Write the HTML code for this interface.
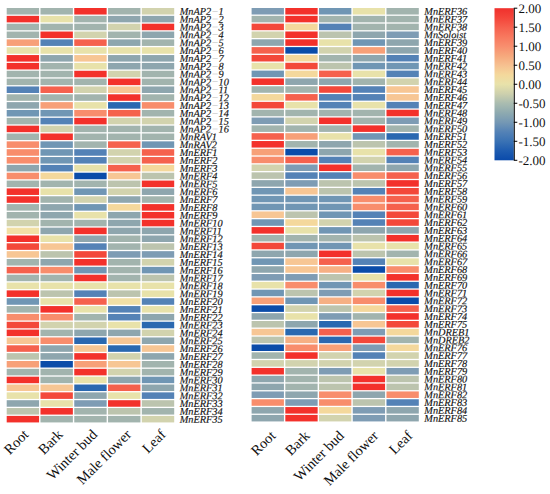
<!DOCTYPE html>
<html><head><meta charset="utf-8"><style>
html,body{margin:0;padding:0;background:#fff;width:550px;height:494px;overflow:hidden}
svg{display:block}
text{text-rendering:geometricPrecision}
.rl{font-family:"Liberation Serif",serif;font-style:italic;font-size:10.30px;fill:#111;stroke:#111;stroke-width:0.15px}
.xl{font-family:"Liberation Serif",serif;font-size:14.30px;fill:#111;text-anchor:end}
.cl{font-family:"Liberation Serif",serif;font-size:13px;fill:#111}
</style></head><body>
<svg width="550" height="494" viewBox="0 0 550 494">
<rect width="550" height="494" fill="#fff"/>
<rect x="6.70" y="8.00" width="32.38" height="6.54" fill="#a2b4ae"/>
<rect x="40.48" y="8.00" width="32.38" height="6.54" fill="#a2b4ae"/>
<rect x="74.26" y="8.00" width="32.38" height="6.54" fill="#f3312b"/>
<rect x="108.04" y="8.00" width="32.38" height="6.54" fill="#a2b4ae"/>
<rect x="141.82" y="8.00" width="32.38" height="6.54" fill="#d2d3ae"/>
<rect x="6.70" y="15.84" width="32.38" height="6.54" fill="#f3312b"/>
<rect x="40.48" y="15.84" width="32.38" height="6.54" fill="#e8e2aa"/>
<rect x="74.26" y="15.84" width="32.38" height="6.54" fill="#a2b4ae"/>
<rect x="108.04" y="15.84" width="32.38" height="6.54" fill="#8ea6ae"/>
<rect x="141.82" y="15.84" width="32.38" height="6.54" fill="#8ea6ae"/>
<rect x="6.70" y="23.69" width="32.38" height="6.54" fill="#a2b4ae"/>
<rect x="40.48" y="23.69" width="32.38" height="6.54" fill="#a2b4ae"/>
<rect x="74.26" y="23.69" width="32.38" height="6.54" fill="#a2b4ae"/>
<rect x="108.04" y="23.69" width="32.38" height="6.54" fill="#d2d3ae"/>
<rect x="141.82" y="23.69" width="32.38" height="6.54" fill="#f3312b"/>
<rect x="6.70" y="31.53" width="32.38" height="6.54" fill="#a2b4ae"/>
<rect x="40.48" y="31.53" width="32.38" height="6.54" fill="#f3312b"/>
<rect x="74.26" y="31.53" width="32.38" height="6.54" fill="#d2d3ae"/>
<rect x="108.04" y="31.53" width="32.38" height="6.54" fill="#a2b4ae"/>
<rect x="141.82" y="31.53" width="32.38" height="6.54" fill="#8ea6ae"/>
<rect x="6.70" y="39.38" width="32.38" height="6.54" fill="#f7a078"/>
<rect x="40.48" y="39.38" width="32.38" height="6.54" fill="#5482b6"/>
<rect x="74.26" y="39.38" width="32.38" height="6.54" fill="#f5614d"/>
<rect x="108.04" y="39.38" width="32.38" height="6.54" fill="#8ea6ae"/>
<rect x="141.82" y="39.38" width="32.38" height="6.54" fill="#a2b4ae"/>
<rect x="6.70" y="47.22" width="32.38" height="6.54" fill="#e8e2aa"/>
<rect x="40.48" y="47.22" width="32.38" height="6.54" fill="#e8e2aa"/>
<rect x="74.26" y="47.22" width="32.38" height="6.54" fill="#e8e2aa"/>
<rect x="108.04" y="47.22" width="32.38" height="6.54" fill="#e8e2aa"/>
<rect x="141.82" y="47.22" width="32.38" height="6.54" fill="#e8e2aa"/>
<rect x="6.70" y="55.06" width="32.38" height="6.54" fill="#f3312b"/>
<rect x="40.48" y="55.06" width="32.38" height="6.54" fill="#8ea6ae"/>
<rect x="74.26" y="55.06" width="32.38" height="6.54" fill="#f7c694"/>
<rect x="108.04" y="55.06" width="32.38" height="6.54" fill="#8ea6ae"/>
<rect x="141.82" y="55.06" width="32.38" height="6.54" fill="#8ea6ae"/>
<rect x="6.70" y="62.91" width="32.38" height="6.54" fill="#f3312b"/>
<rect x="40.48" y="62.91" width="32.38" height="6.54" fill="#a2b4ae"/>
<rect x="74.26" y="62.91" width="32.38" height="6.54" fill="#e8e2aa"/>
<rect x="108.04" y="62.91" width="32.38" height="6.54" fill="#8ea6ae"/>
<rect x="141.82" y="62.91" width="32.38" height="6.54" fill="#8ea6ae"/>
<rect x="6.70" y="70.75" width="32.38" height="6.54" fill="#a2b4ae"/>
<rect x="40.48" y="70.75" width="32.38" height="6.54" fill="#a2b4ae"/>
<rect x="74.26" y="70.75" width="32.38" height="6.54" fill="#f3312b"/>
<rect x="108.04" y="70.75" width="32.38" height="6.54" fill="#d2d3ae"/>
<rect x="141.82" y="70.75" width="32.38" height="6.54" fill="#a2b4ae"/>
<rect x="6.70" y="78.60" width="32.38" height="6.54" fill="#a2b4ae"/>
<rect x="40.48" y="78.60" width="32.38" height="6.54" fill="#a2b4ae"/>
<rect x="74.26" y="78.60" width="32.38" height="6.54" fill="#a2b4ae"/>
<rect x="108.04" y="78.60" width="32.38" height="6.54" fill="#f3312b"/>
<rect x="141.82" y="78.60" width="32.38" height="6.54" fill="#a2b4ae"/>
<rect x="6.70" y="86.44" width="32.38" height="6.54" fill="#5482b6"/>
<rect x="40.48" y="86.44" width="32.38" height="6.54" fill="#f5614d"/>
<rect x="74.26" y="86.44" width="32.38" height="6.54" fill="#d2d3ae"/>
<rect x="108.04" y="86.44" width="32.38" height="6.54" fill="#f7c694"/>
<rect x="141.82" y="86.44" width="32.38" height="6.54" fill="#8ea6ae"/>
<rect x="6.70" y="94.28" width="32.38" height="6.54" fill="#a2b4ae"/>
<rect x="40.48" y="94.28" width="32.38" height="6.54" fill="#a2b4ae"/>
<rect x="74.26" y="94.28" width="32.38" height="6.54" fill="#a2b4ae"/>
<rect x="108.04" y="94.28" width="32.38" height="6.54" fill="#f3312b"/>
<rect x="141.82" y="94.28" width="32.38" height="6.54" fill="#a2b4ae"/>
<rect x="6.70" y="102.13" width="32.38" height="6.54" fill="#8ea6ae"/>
<rect x="40.48" y="102.13" width="32.38" height="6.54" fill="#f7a078"/>
<rect x="74.26" y="102.13" width="32.38" height="6.54" fill="#e8e2aa"/>
<rect x="108.04" y="102.13" width="32.38" height="6.54" fill="#2a68b0"/>
<rect x="141.82" y="102.13" width="32.38" height="6.54" fill="#f88d6c"/>
<rect x="6.70" y="109.97" width="32.38" height="6.54" fill="#7096b4"/>
<rect x="40.48" y="109.97" width="32.38" height="6.54" fill="#7096b4"/>
<rect x="74.26" y="109.97" width="32.38" height="6.54" fill="#f88d6c"/>
<rect x="108.04" y="109.97" width="32.38" height="6.54" fill="#f5614d"/>
<rect x="141.82" y="109.97" width="32.38" height="6.54" fill="#a2b4ae"/>
<rect x="6.70" y="117.82" width="32.38" height="6.54" fill="#a2b4ae"/>
<rect x="40.48" y="117.82" width="32.38" height="6.54" fill="#5482b6"/>
<rect x="74.26" y="117.82" width="32.38" height="6.54" fill="#f3312b"/>
<rect x="108.04" y="117.82" width="32.38" height="6.54" fill="#d2d3ae"/>
<rect x="141.82" y="117.82" width="32.38" height="6.54" fill="#d2d3ae"/>
<rect x="6.70" y="125.66" width="32.38" height="6.54" fill="#f3312b"/>
<rect x="40.48" y="125.66" width="32.38" height="6.54" fill="#d2d3ae"/>
<rect x="74.26" y="125.66" width="32.38" height="6.54" fill="#a2b4ae"/>
<rect x="108.04" y="125.66" width="32.38" height="6.54" fill="#a2b4ae"/>
<rect x="141.82" y="125.66" width="32.38" height="6.54" fill="#a2b4ae"/>
<rect x="6.70" y="133.50" width="32.38" height="6.54" fill="#a2b4ae"/>
<rect x="40.48" y="133.50" width="32.38" height="6.54" fill="#f3312b"/>
<rect x="74.26" y="133.50" width="32.38" height="6.54" fill="#a2b4ae"/>
<rect x="108.04" y="133.50" width="32.38" height="6.54" fill="#a2b4ae"/>
<rect x="141.82" y="133.50" width="32.38" height="6.54" fill="#a2b4ae"/>
<rect x="6.70" y="141.35" width="32.38" height="6.54" fill="#f88d6c"/>
<rect x="40.48" y="141.35" width="32.38" height="6.54" fill="#7096b4"/>
<rect x="74.26" y="141.35" width="32.38" height="6.54" fill="#a2b4ae"/>
<rect x="108.04" y="141.35" width="32.38" height="6.54" fill="#f5614d"/>
<rect x="141.82" y="141.35" width="32.38" height="6.54" fill="#7096b4"/>
<rect x="6.70" y="149.19" width="32.38" height="6.54" fill="#f88d6c"/>
<rect x="40.48" y="149.19" width="32.38" height="6.54" fill="#7096b4"/>
<rect x="74.26" y="149.19" width="32.38" height="6.54" fill="#5482b6"/>
<rect x="108.04" y="149.19" width="32.38" height="6.54" fill="#d2d3ae"/>
<rect x="141.82" y="149.19" width="32.38" height="6.54" fill="#f5614d"/>
<rect x="6.70" y="157.04" width="32.38" height="6.54" fill="#f88d6c"/>
<rect x="40.48" y="157.04" width="32.38" height="6.54" fill="#7096b4"/>
<rect x="74.26" y="157.04" width="32.38" height="6.54" fill="#5482b6"/>
<rect x="108.04" y="157.04" width="32.38" height="6.54" fill="#d2d3ae"/>
<rect x="141.82" y="157.04" width="32.38" height="6.54" fill="#f5614d"/>
<rect x="6.70" y="164.88" width="32.38" height="6.54" fill="#8ea6ae"/>
<rect x="40.48" y="164.88" width="32.38" height="6.54" fill="#5482b6"/>
<rect x="74.26" y="164.88" width="32.38" height="6.54" fill="#e8e2aa"/>
<rect x="108.04" y="164.88" width="32.38" height="6.54" fill="#f5614d"/>
<rect x="141.82" y="164.88" width="32.38" height="6.54" fill="#f4d89c"/>
<rect x="6.70" y="172.72" width="32.38" height="6.54" fill="#f88d6c"/>
<rect x="40.48" y="172.72" width="32.38" height="6.54" fill="#f4d89c"/>
<rect x="74.26" y="172.72" width="32.38" height="6.54" fill="#0b4ca9"/>
<rect x="108.04" y="172.72" width="32.38" height="6.54" fill="#f7c694"/>
<rect x="141.82" y="172.72" width="32.38" height="6.54" fill="#bcc4ae"/>
<rect x="6.70" y="180.57" width="32.38" height="6.54" fill="#a2b4ae"/>
<rect x="40.48" y="180.57" width="32.38" height="6.54" fill="#a2b4ae"/>
<rect x="74.26" y="180.57" width="32.38" height="6.54" fill="#a2b4ae"/>
<rect x="108.04" y="180.57" width="32.38" height="6.54" fill="#bcc4ae"/>
<rect x="141.82" y="180.57" width="32.38" height="6.54" fill="#f3312b"/>
<rect x="6.70" y="188.41" width="32.38" height="6.54" fill="#f3312b"/>
<rect x="40.48" y="188.41" width="32.38" height="6.54" fill="#e8e2aa"/>
<rect x="74.26" y="188.41" width="32.38" height="6.54" fill="#7096b4"/>
<rect x="108.04" y="188.41" width="32.38" height="6.54" fill="#d2d3ae"/>
<rect x="141.82" y="188.41" width="32.38" height="6.54" fill="#8ea6ae"/>
<rect x="6.70" y="196.26" width="32.38" height="6.54" fill="#f3312b"/>
<rect x="40.48" y="196.26" width="32.38" height="6.54" fill="#a2b4ae"/>
<rect x="74.26" y="196.26" width="32.38" height="6.54" fill="#d2d3ae"/>
<rect x="108.04" y="196.26" width="32.38" height="6.54" fill="#8ea6ae"/>
<rect x="141.82" y="196.26" width="32.38" height="6.54" fill="#a2b4ae"/>
<rect x="6.70" y="204.10" width="32.38" height="6.54" fill="#a2b4ae"/>
<rect x="40.48" y="204.10" width="32.38" height="6.54" fill="#8ea6ae"/>
<rect x="74.26" y="204.10" width="32.38" height="6.54" fill="#7096b4"/>
<rect x="108.04" y="204.10" width="32.38" height="6.54" fill="#f4d89c"/>
<rect x="141.82" y="204.10" width="32.38" height="6.54" fill="#f3312b"/>
<rect x="6.70" y="211.94" width="32.38" height="6.54" fill="#a2b4ae"/>
<rect x="40.48" y="211.94" width="32.38" height="6.54" fill="#8ea6ae"/>
<rect x="74.26" y="211.94" width="32.38" height="6.54" fill="#e8e2aa"/>
<rect x="108.04" y="211.94" width="32.38" height="6.54" fill="#8ea6ae"/>
<rect x="141.82" y="211.94" width="32.38" height="6.54" fill="#f3312b"/>
<rect x="6.70" y="219.79" width="32.38" height="6.54" fill="#d2d3ae"/>
<rect x="40.48" y="219.79" width="32.38" height="6.54" fill="#a2b4ae"/>
<rect x="74.26" y="219.79" width="32.38" height="6.54" fill="#a2b4ae"/>
<rect x="108.04" y="219.79" width="32.38" height="6.54" fill="#8ea6ae"/>
<rect x="141.82" y="219.79" width="32.38" height="6.54" fill="#f3312b"/>
<rect x="6.70" y="227.63" width="32.38" height="6.54" fill="#f2e0a6"/>
<rect x="40.48" y="227.63" width="32.38" height="6.54" fill="#8ea6ae"/>
<rect x="74.26" y="227.63" width="32.38" height="6.54" fill="#f3312b"/>
<rect x="108.04" y="227.63" width="32.38" height="6.54" fill="#8ea6ae"/>
<rect x="141.82" y="227.63" width="32.38" height="6.54" fill="#8ea6ae"/>
<rect x="6.70" y="235.48" width="32.38" height="6.54" fill="#f3312b"/>
<rect x="40.48" y="235.48" width="32.38" height="6.54" fill="#e8e2aa"/>
<rect x="74.26" y="235.48" width="32.38" height="6.54" fill="#8ea6ae"/>
<rect x="108.04" y="235.48" width="32.38" height="6.54" fill="#a2b4ae"/>
<rect x="141.82" y="235.48" width="32.38" height="6.54" fill="#8ea6ae"/>
<rect x="6.70" y="243.32" width="32.38" height="6.54" fill="#f3483a"/>
<rect x="40.48" y="243.32" width="32.38" height="6.54" fill="#f7c694"/>
<rect x="74.26" y="243.32" width="32.38" height="6.54" fill="#5482b6"/>
<rect x="108.04" y="243.32" width="32.38" height="6.54" fill="#a2b4ae"/>
<rect x="141.82" y="243.32" width="32.38" height="6.54" fill="#bcc4ae"/>
<rect x="6.70" y="251.16" width="32.38" height="6.54" fill="#f7c694"/>
<rect x="40.48" y="251.16" width="32.38" height="6.54" fill="#bcc4ae"/>
<rect x="74.26" y="251.16" width="32.38" height="6.54" fill="#f3483a"/>
<rect x="108.04" y="251.16" width="32.38" height="6.54" fill="#7e9cb4"/>
<rect x="141.82" y="251.16" width="32.38" height="6.54" fill="#7e9cb4"/>
<rect x="6.70" y="259.01" width="32.38" height="6.54" fill="#a2b4ae"/>
<rect x="40.48" y="259.01" width="32.38" height="6.54" fill="#8ea6ae"/>
<rect x="74.26" y="259.01" width="32.38" height="6.54" fill="#f3312b"/>
<rect x="108.04" y="259.01" width="32.38" height="6.54" fill="#a2b4ae"/>
<rect x="141.82" y="259.01" width="32.38" height="6.54" fill="#d2d3ae"/>
<rect x="6.70" y="266.85" width="32.38" height="6.54" fill="#f5614d"/>
<rect x="40.48" y="266.85" width="32.38" height="6.54" fill="#f88d6c"/>
<rect x="74.26" y="266.85" width="32.38" height="6.54" fill="#7096b4"/>
<rect x="108.04" y="266.85" width="32.38" height="6.54" fill="#a2b4ae"/>
<rect x="141.82" y="266.85" width="32.38" height="6.54" fill="#7096b4"/>
<rect x="6.70" y="274.70" width="32.38" height="6.54" fill="#a2b4ae"/>
<rect x="40.48" y="274.70" width="32.38" height="6.54" fill="#a2b4ae"/>
<rect x="74.26" y="274.70" width="32.38" height="6.54" fill="#f3312b"/>
<rect x="108.04" y="274.70" width="32.38" height="6.54" fill="#a2b4ae"/>
<rect x="141.82" y="274.70" width="32.38" height="6.54" fill="#bcc4ae"/>
<rect x="6.70" y="282.54" width="32.38" height="6.54" fill="#e8e2aa"/>
<rect x="40.48" y="282.54" width="32.38" height="6.54" fill="#e8e2aa"/>
<rect x="74.26" y="282.54" width="32.38" height="6.54" fill="#e8e2aa"/>
<rect x="108.04" y="282.54" width="32.38" height="6.54" fill="#e8e2aa"/>
<rect x="141.82" y="282.54" width="32.38" height="6.54" fill="#e8e2aa"/>
<rect x="6.70" y="290.38" width="32.38" height="6.54" fill="#f3312b"/>
<rect x="40.48" y="290.38" width="32.38" height="6.54" fill="#bcc4ae"/>
<rect x="74.26" y="290.38" width="32.38" height="6.54" fill="#5482b6"/>
<rect x="108.04" y="290.38" width="32.38" height="6.54" fill="#bcc4ae"/>
<rect x="141.82" y="290.38" width="32.38" height="6.54" fill="#e8e2aa"/>
<rect x="6.70" y="298.23" width="32.38" height="6.54" fill="#7096b4"/>
<rect x="40.48" y="298.23" width="32.38" height="6.54" fill="#e8e2aa"/>
<rect x="74.26" y="298.23" width="32.38" height="6.54" fill="#f5614d"/>
<rect x="108.04" y="298.23" width="32.38" height="6.54" fill="#f2e0a6"/>
<rect x="141.82" y="298.23" width="32.38" height="6.54" fill="#5482b6"/>
<rect x="6.70" y="306.07" width="32.38" height="6.54" fill="#a2b4ae"/>
<rect x="40.48" y="306.07" width="32.38" height="6.54" fill="#f3312b"/>
<rect x="74.26" y="306.07" width="32.38" height="6.54" fill="#e8e2aa"/>
<rect x="108.04" y="306.07" width="32.38" height="6.54" fill="#5482b6"/>
<rect x="141.82" y="306.07" width="32.38" height="6.54" fill="#e8e2aa"/>
<rect x="6.70" y="313.92" width="32.38" height="6.54" fill="#f88d6c"/>
<rect x="40.48" y="313.92" width="32.38" height="6.54" fill="#f88d6c"/>
<rect x="74.26" y="313.92" width="32.38" height="6.54" fill="#a2b4ae"/>
<rect x="108.04" y="313.92" width="32.38" height="6.54" fill="#5482b6"/>
<rect x="141.82" y="313.92" width="32.38" height="6.54" fill="#8ea6ae"/>
<rect x="6.70" y="321.76" width="32.38" height="6.54" fill="#f3483a"/>
<rect x="40.48" y="321.76" width="32.38" height="6.54" fill="#d2d3ae"/>
<rect x="74.26" y="321.76" width="32.38" height="6.54" fill="#d2d3ae"/>
<rect x="108.04" y="321.76" width="32.38" height="6.54" fill="#e8e2aa"/>
<rect x="141.82" y="321.76" width="32.38" height="6.54" fill="#2a68b0"/>
<rect x="6.70" y="329.60" width="32.38" height="6.54" fill="#f3312b"/>
<rect x="40.48" y="329.60" width="32.38" height="6.54" fill="#a2b4ae"/>
<rect x="74.26" y="329.60" width="32.38" height="6.54" fill="#8ea6ae"/>
<rect x="108.04" y="329.60" width="32.38" height="6.54" fill="#8ea6ae"/>
<rect x="141.82" y="329.60" width="32.38" height="6.54" fill="#d2d3ae"/>
<rect x="6.70" y="337.45" width="32.38" height="6.54" fill="#f7c694"/>
<rect x="40.48" y="337.45" width="32.38" height="6.54" fill="#f88d6c"/>
<rect x="74.26" y="337.45" width="32.38" height="6.54" fill="#2a68b0"/>
<rect x="108.04" y="337.45" width="32.38" height="6.54" fill="#f7c694"/>
<rect x="141.82" y="337.45" width="32.38" height="6.54" fill="#8ea6ae"/>
<rect x="6.70" y="345.29" width="32.38" height="6.54" fill="#f5614d"/>
<rect x="40.48" y="345.29" width="32.38" height="6.54" fill="#8ea6ae"/>
<rect x="74.26" y="345.29" width="32.38" height="6.54" fill="#f7c694"/>
<rect x="108.04" y="345.29" width="32.38" height="6.54" fill="#2a68b0"/>
<rect x="141.82" y="345.29" width="32.38" height="6.54" fill="#f7c694"/>
<rect x="6.70" y="353.14" width="32.38" height="6.54" fill="#bcc4ae"/>
<rect x="40.48" y="353.14" width="32.38" height="6.54" fill="#8ea6ae"/>
<rect x="74.26" y="353.14" width="32.38" height="6.54" fill="#f3312b"/>
<rect x="108.04" y="353.14" width="32.38" height="6.54" fill="#d2d3ae"/>
<rect x="141.82" y="353.14" width="32.38" height="6.54" fill="#8ea6ae"/>
<rect x="6.70" y="360.98" width="32.38" height="6.54" fill="#f7a078"/>
<rect x="40.48" y="360.98" width="32.38" height="6.54" fill="#0b4ca9"/>
<rect x="74.26" y="360.98" width="32.38" height="6.54" fill="#f7a078"/>
<rect x="108.04" y="360.98" width="32.38" height="6.54" fill="#f7c694"/>
<rect x="141.82" y="360.98" width="32.38" height="6.54" fill="#a2b4ae"/>
<rect x="6.70" y="368.82" width="32.38" height="6.54" fill="#a2b4ae"/>
<rect x="40.48" y="368.82" width="32.38" height="6.54" fill="#a2b4ae"/>
<rect x="74.26" y="368.82" width="32.38" height="6.54" fill="#f3312b"/>
<rect x="108.04" y="368.82" width="32.38" height="6.54" fill="#d2d3ae"/>
<rect x="141.82" y="368.82" width="32.38" height="6.54" fill="#a2b4ae"/>
<rect x="6.70" y="376.67" width="32.38" height="6.54" fill="#f3312b"/>
<rect x="40.48" y="376.67" width="32.38" height="6.54" fill="#a2b4ae"/>
<rect x="74.26" y="376.67" width="32.38" height="6.54" fill="#e8e2aa"/>
<rect x="108.04" y="376.67" width="32.38" height="6.54" fill="#8ea6ae"/>
<rect x="141.82" y="376.67" width="32.38" height="6.54" fill="#7096b4"/>
<rect x="6.70" y="384.51" width="32.38" height="6.54" fill="#f7c694"/>
<rect x="40.48" y="384.51" width="32.38" height="6.54" fill="#f7c694"/>
<rect x="74.26" y="384.51" width="32.38" height="6.54" fill="#2a68b0"/>
<rect x="108.04" y="384.51" width="32.38" height="6.54" fill="#f5614d"/>
<rect x="141.82" y="384.51" width="32.38" height="6.54" fill="#8ea6ae"/>
<rect x="6.70" y="392.36" width="32.38" height="6.54" fill="#e8e2aa"/>
<rect x="40.48" y="392.36" width="32.38" height="6.54" fill="#f3483a"/>
<rect x="74.26" y="392.36" width="32.38" height="6.54" fill="#8ea6ae"/>
<rect x="108.04" y="392.36" width="32.38" height="6.54" fill="#e8e2aa"/>
<rect x="141.82" y="392.36" width="32.38" height="6.54" fill="#5482b6"/>
<rect x="6.70" y="400.20" width="32.38" height="6.54" fill="#8ea6ae"/>
<rect x="40.48" y="400.20" width="32.38" height="6.54" fill="#e8e2aa"/>
<rect x="74.26" y="400.20" width="32.38" height="6.54" fill="#7e9cb4"/>
<rect x="108.04" y="400.20" width="32.38" height="6.54" fill="#f3312b"/>
<rect x="141.82" y="400.20" width="32.38" height="6.54" fill="#bcc4ae"/>
<rect x="6.70" y="408.04" width="32.38" height="6.54" fill="#bcc4ae"/>
<rect x="40.48" y="408.04" width="32.38" height="6.54" fill="#f3312b"/>
<rect x="74.26" y="408.04" width="32.38" height="6.54" fill="#a2b4ae"/>
<rect x="108.04" y="408.04" width="32.38" height="6.54" fill="#bcc4ae"/>
<rect x="141.82" y="408.04" width="32.38" height="6.54" fill="#a2b4ae"/>
<rect x="6.70" y="415.89" width="32.38" height="6.54" fill="#f3312b"/>
<rect x="40.48" y="415.89" width="32.38" height="6.54" fill="#a2b4ae"/>
<rect x="74.26" y="415.89" width="32.38" height="6.54" fill="#a2b4ae"/>
<rect x="108.04" y="415.89" width="32.38" height="6.54" fill="#a2b4ae"/>
<rect x="141.82" y="415.89" width="32.38" height="6.54" fill="#d2d3ae"/>
<text transform="translate(179.70 14.77) rotate(0.1)" class="rl">MnAP2<tspan dx="1.4" dy="-1.1" style="fill:#bdbdbd;stroke:none">–</tspan><tspan dx="0.9" dy="1.1">1</tspan></text>
<text transform="translate(179.70 22.62) rotate(0.1)" class="rl">MnAP2<tspan dx="1.4" dy="-1.1" style="fill:#bdbdbd;stroke:none">–</tspan><tspan dx="0.9" dy="1.1">2</tspan></text>
<text transform="translate(179.70 30.46) rotate(0.1)" class="rl">MnAP2<tspan dx="1.4" dy="-1.1" style="fill:#bdbdbd;stroke:none">–</tspan><tspan dx="0.9" dy="1.1">3</tspan></text>
<text transform="translate(179.70 38.30) rotate(0.1)" class="rl">MnAP2<tspan dx="1.4" dy="-1.1" style="fill:#bdbdbd;stroke:none">–</tspan><tspan dx="0.9" dy="1.1">4</tspan></text>
<text transform="translate(179.70 46.15) rotate(0.1)" class="rl">MnAP2<tspan dx="1.4" dy="-1.1" style="fill:#bdbdbd;stroke:none">–</tspan><tspan dx="0.9" dy="1.1">5</tspan></text>
<text transform="translate(179.70 53.99) rotate(0.1)" class="rl">MnAP2<tspan dx="1.4" dy="-1.1" style="fill:#bdbdbd;stroke:none">–</tspan><tspan dx="0.9" dy="1.1">6</tspan></text>
<text transform="translate(179.70 61.84) rotate(0.1)" class="rl">MnAP2<tspan dx="1.4" dy="-1.1" style="fill:#bdbdbd;stroke:none">–</tspan><tspan dx="0.9" dy="1.1">7</tspan></text>
<text transform="translate(179.70 69.68) rotate(0.1)" class="rl">MnAP2<tspan dx="1.4" dy="-1.1" style="fill:#bdbdbd;stroke:none">–</tspan><tspan dx="0.9" dy="1.1">8</tspan></text>
<text transform="translate(179.70 77.52) rotate(0.1)" class="rl">MnAP2<tspan dx="1.4" dy="-1.1" style="fill:#bdbdbd;stroke:none">–</tspan><tspan dx="0.9" dy="1.1">9</tspan></text>
<text transform="translate(179.70 85.37) rotate(0.1)" class="rl">MnAP2<tspan dx="1.4" dy="-1.1" style="fill:#bdbdbd;stroke:none">–</tspan><tspan dx="0.9" dy="1.1">10</tspan></text>
<text transform="translate(179.70 93.21) rotate(0.1)" class="rl">MnAP2<tspan dx="1.4" dy="-1.1" style="fill:#bdbdbd;stroke:none">–</tspan><tspan dx="0.9" dy="1.1">11</tspan></text>
<text transform="translate(179.70 101.06) rotate(0.1)" class="rl">MnAP2<tspan dx="1.4" dy="-1.1" style="fill:#bdbdbd;stroke:none">–</tspan><tspan dx="0.9" dy="1.1">12</tspan></text>
<text transform="translate(179.70 108.90) rotate(0.1)" class="rl">MnAP2<tspan dx="1.4" dy="-1.1" style="fill:#bdbdbd;stroke:none">–</tspan><tspan dx="0.9" dy="1.1">13</tspan></text>
<text transform="translate(179.70 116.74) rotate(0.1)" class="rl">MnAP2<tspan dx="1.4" dy="-1.1" style="fill:#bdbdbd;stroke:none">–</tspan><tspan dx="0.9" dy="1.1">14</tspan></text>
<text transform="translate(179.70 124.59) rotate(0.1)" class="rl">MnAP2<tspan dx="1.4" dy="-1.1" style="fill:#bdbdbd;stroke:none">–</tspan><tspan dx="0.9" dy="1.1">15</tspan></text>
<text transform="translate(179.70 132.43) rotate(0.1)" class="rl">MnAP2<tspan dx="1.4" dy="-1.1" style="fill:#bdbdbd;stroke:none">–</tspan><tspan dx="0.9" dy="1.1">16</tspan></text>
<text transform="translate(179.70 140.28) rotate(0.1)" class="rl">MnRAV1</text>
<text transform="translate(179.70 148.12) rotate(0.1)" class="rl">MnRAV2</text>
<text transform="translate(179.70 155.96) rotate(0.1)" class="rl">MnERF1</text>
<text transform="translate(179.70 163.81) rotate(0.1)" class="rl">MnERF2</text>
<text transform="translate(179.70 171.65) rotate(0.1)" class="rl">MnERF3</text>
<text transform="translate(179.70 179.50) rotate(0.1)" class="rl">MnERF4</text>
<text transform="translate(179.70 187.34) rotate(0.1)" class="rl">MnERF5</text>
<text transform="translate(179.70 195.18) rotate(0.1)" class="rl">MnERF6</text>
<text transform="translate(179.70 203.03) rotate(0.1)" class="rl">MnERF7</text>
<text transform="translate(179.70 210.87) rotate(0.1)" class="rl">MnERF8</text>
<text transform="translate(179.70 218.72) rotate(0.1)" class="rl">MnERF9</text>
<text transform="translate(179.70 226.56) rotate(0.1)" class="rl">MnERF10</text>
<text transform="translate(179.70 234.40) rotate(0.1)" class="rl">MnERF11</text>
<text transform="translate(179.70 242.25) rotate(0.1)" class="rl">MnERF12</text>
<text transform="translate(179.70 250.09) rotate(0.1)" class="rl">MnERF13</text>
<text transform="translate(179.70 257.94) rotate(0.1)" class="rl">MnERF14</text>
<text transform="translate(179.70 265.78) rotate(0.1)" class="rl">MnERF15</text>
<text transform="translate(179.70 273.62) rotate(0.1)" class="rl">MnERF16</text>
<text transform="translate(179.70 281.47) rotate(0.1)" class="rl">MnERF17</text>
<text transform="translate(179.70 289.31) rotate(0.1)" class="rl">MnERF18</text>
<text transform="translate(179.70 297.16) rotate(0.1)" class="rl">MnERF19</text>
<text transform="translate(179.70 305.00) rotate(0.1)" class="rl">MnERF20</text>
<text transform="translate(179.70 312.84) rotate(0.1)" class="rl">MnERF21</text>
<text transform="translate(179.70 320.69) rotate(0.1)" class="rl">MnERF22</text>
<text transform="translate(179.70 328.53) rotate(0.1)" class="rl">MnERF23</text>
<text transform="translate(179.70 336.38) rotate(0.1)" class="rl">MnERF24</text>
<text transform="translate(179.70 344.22) rotate(0.1)" class="rl">MnERF25</text>
<text transform="translate(179.70 352.06) rotate(0.1)" class="rl">MnERF26</text>
<text transform="translate(179.70 359.91) rotate(0.1)" class="rl">MnERF27</text>
<text transform="translate(179.70 367.75) rotate(0.1)" class="rl">MnERF28</text>
<text transform="translate(179.70 375.60) rotate(0.1)" class="rl">MnERF29</text>
<text transform="translate(179.70 383.44) rotate(0.1)" class="rl">MnERF30</text>
<text transform="translate(179.70 391.28) rotate(0.1)" class="rl">MnERF31</text>
<text transform="translate(179.70 399.13) rotate(0.1)" class="rl">MnERF32</text>
<text transform="translate(179.70 406.97) rotate(0.1)" class="rl">MnERF33</text>
<text transform="translate(179.70 414.82) rotate(0.1)" class="rl">MnERF34</text>
<text transform="translate(179.70 422.66) rotate(0.1)" class="rl">MnERF35</text>
<text transform="translate(29.39 435.50) rotate(-45.0)" class="xl">Root</text>
<text transform="translate(63.67 435.50) rotate(-45.0)" class="xl">Bark</text>
<text transform="translate(97.95 435.50) rotate(-45.0)" class="xl">Winter bud</text>
<text transform="translate(132.23 435.50) rotate(-45.0)" class="xl">Male flower</text>
<text transform="translate(166.51 435.50) rotate(-45.0)" class="xl">Leaf</text>
<rect x="251.60" y="8.00" width="32.32" height="6.53" fill="#7e9cb4"/>
<rect x="285.32" y="8.00" width="32.32" height="6.53" fill="#f3312b"/>
<rect x="319.04" y="8.00" width="32.32" height="6.53" fill="#7096b4"/>
<rect x="352.76" y="8.00" width="32.32" height="6.53" fill="#e8e2aa"/>
<rect x="386.48" y="8.00" width="32.32" height="6.53" fill="#a2b4ae"/>
<rect x="251.60" y="15.82" width="32.32" height="6.53" fill="#a2b4ae"/>
<rect x="285.32" y="15.82" width="32.32" height="6.53" fill="#f3312b"/>
<rect x="319.04" y="15.82" width="32.32" height="6.53" fill="#a2b4ae"/>
<rect x="352.76" y="15.82" width="32.32" height="6.53" fill="#a2b4ae"/>
<rect x="386.48" y="15.82" width="32.32" height="6.53" fill="#a2b4ae"/>
<rect x="251.60" y="23.65" width="32.32" height="6.53" fill="#f3483a"/>
<rect x="285.32" y="23.65" width="32.32" height="6.53" fill="#f4d89c"/>
<rect x="319.04" y="23.65" width="32.32" height="6.53" fill="#5482b6"/>
<rect x="352.76" y="23.65" width="32.32" height="6.53" fill="#a2b4ae"/>
<rect x="386.48" y="23.65" width="32.32" height="6.53" fill="#a2b4ae"/>
<rect x="251.60" y="31.48" width="32.32" height="6.53" fill="#d2d3ae"/>
<rect x="285.32" y="31.48" width="32.32" height="6.53" fill="#f3312b"/>
<rect x="319.04" y="31.48" width="32.32" height="6.53" fill="#bcc4ae"/>
<rect x="352.76" y="31.48" width="32.32" height="6.53" fill="#8ea6ae"/>
<rect x="386.48" y="31.48" width="32.32" height="6.53" fill="#7e9cb4"/>
<rect x="251.60" y="39.30" width="32.32" height="6.53" fill="#8ea6ae"/>
<rect x="285.32" y="39.30" width="32.32" height="6.53" fill="#f3312b"/>
<rect x="319.04" y="39.30" width="32.32" height="6.53" fill="#e8e2aa"/>
<rect x="352.76" y="39.30" width="32.32" height="6.53" fill="#7096b4"/>
<rect x="386.48" y="39.30" width="32.32" height="6.53" fill="#8ea6ae"/>
<rect x="251.60" y="47.12" width="32.32" height="6.53" fill="#f5614d"/>
<rect x="285.32" y="47.12" width="32.32" height="6.53" fill="#0b4ca9"/>
<rect x="319.04" y="47.12" width="32.32" height="6.53" fill="#d2d3ae"/>
<rect x="352.76" y="47.12" width="32.32" height="6.53" fill="#f7a078"/>
<rect x="386.48" y="47.12" width="32.32" height="6.53" fill="#8ea6ae"/>
<rect x="251.60" y="54.95" width="32.32" height="6.53" fill="#f3483a"/>
<rect x="285.32" y="54.95" width="32.32" height="6.53" fill="#f4d89c"/>
<rect x="319.04" y="54.95" width="32.32" height="6.53" fill="#a2b4ae"/>
<rect x="352.76" y="54.95" width="32.32" height="6.53" fill="#8ea6ae"/>
<rect x="386.48" y="54.95" width="32.32" height="6.53" fill="#5482b6"/>
<rect x="251.60" y="62.77" width="32.32" height="6.53" fill="#e8e2aa"/>
<rect x="285.32" y="62.77" width="32.32" height="6.53" fill="#f3483a"/>
<rect x="319.04" y="62.77" width="32.32" height="6.53" fill="#bcc4ae"/>
<rect x="352.76" y="62.77" width="32.32" height="6.53" fill="#7096b4"/>
<rect x="386.48" y="62.77" width="32.32" height="6.53" fill="#7096b4"/>
<rect x="251.60" y="70.60" width="32.32" height="6.53" fill="#7096b4"/>
<rect x="285.32" y="70.60" width="32.32" height="6.53" fill="#f4d89c"/>
<rect x="319.04" y="70.60" width="32.32" height="6.53" fill="#f5614d"/>
<rect x="352.76" y="70.60" width="32.32" height="6.53" fill="#e8e2aa"/>
<rect x="386.48" y="70.60" width="32.32" height="6.53" fill="#5482b6"/>
<rect x="251.60" y="78.42" width="32.32" height="6.53" fill="#f3312b"/>
<rect x="285.32" y="78.42" width="32.32" height="6.53" fill="#8ea6ae"/>
<rect x="319.04" y="78.42" width="32.32" height="6.53" fill="#8ea6ae"/>
<rect x="352.76" y="78.42" width="32.32" height="6.53" fill="#a2b4ae"/>
<rect x="386.48" y="78.42" width="32.32" height="6.53" fill="#d2d3ae"/>
<rect x="251.60" y="86.25" width="32.32" height="6.53" fill="#a2b4ae"/>
<rect x="285.32" y="86.25" width="32.32" height="6.53" fill="#a2b4ae"/>
<rect x="319.04" y="86.25" width="32.32" height="6.53" fill="#f3483a"/>
<rect x="352.76" y="86.25" width="32.32" height="6.53" fill="#5482b6"/>
<rect x="386.48" y="86.25" width="32.32" height="6.53" fill="#f7c694"/>
<rect x="251.60" y="94.08" width="32.32" height="6.53" fill="#f4d89c"/>
<rect x="285.32" y="94.08" width="32.32" height="6.53" fill="#f5614d"/>
<rect x="319.04" y="94.08" width="32.32" height="6.53" fill="#5482b6"/>
<rect x="352.76" y="94.08" width="32.32" height="6.53" fill="#5482b6"/>
<rect x="386.48" y="94.08" width="32.32" height="6.53" fill="#f7c694"/>
<rect x="251.60" y="101.90" width="32.32" height="6.53" fill="#f3483a"/>
<rect x="285.32" y="101.90" width="32.32" height="6.53" fill="#e8e2aa"/>
<rect x="319.04" y="101.90" width="32.32" height="6.53" fill="#5482b6"/>
<rect x="352.76" y="101.90" width="32.32" height="6.53" fill="#e8e2aa"/>
<rect x="386.48" y="101.90" width="32.32" height="6.53" fill="#5482b6"/>
<rect x="251.60" y="109.73" width="32.32" height="6.53" fill="#a2b4ae"/>
<rect x="285.32" y="109.73" width="32.32" height="6.53" fill="#a2b4ae"/>
<rect x="319.04" y="109.73" width="32.32" height="6.53" fill="#a2b4ae"/>
<rect x="352.76" y="109.73" width="32.32" height="6.53" fill="#a2b4ae"/>
<rect x="386.48" y="109.73" width="32.32" height="6.53" fill="#f3312b"/>
<rect x="251.60" y="117.55" width="32.32" height="6.53" fill="#7e9cb4"/>
<rect x="285.32" y="117.55" width="32.32" height="6.53" fill="#d2d3ae"/>
<rect x="319.04" y="117.55" width="32.32" height="6.53" fill="#f3312b"/>
<rect x="352.76" y="117.55" width="32.32" height="6.53" fill="#a2b4ae"/>
<rect x="386.48" y="117.55" width="32.32" height="6.53" fill="#7e9cb4"/>
<rect x="251.60" y="125.38" width="32.32" height="6.53" fill="#a2b4ae"/>
<rect x="285.32" y="125.38" width="32.32" height="6.53" fill="#a2b4ae"/>
<rect x="319.04" y="125.38" width="32.32" height="6.53" fill="#a2b4ae"/>
<rect x="352.76" y="125.38" width="32.32" height="6.53" fill="#f3312b"/>
<rect x="386.48" y="125.38" width="32.32" height="6.53" fill="#a2b4ae"/>
<rect x="251.60" y="133.20" width="32.32" height="6.53" fill="#f5614d"/>
<rect x="285.32" y="133.20" width="32.32" height="6.53" fill="#f7a078"/>
<rect x="319.04" y="133.20" width="32.32" height="6.53" fill="#e8e2aa"/>
<rect x="352.76" y="133.20" width="32.32" height="6.53" fill="#7096b4"/>
<rect x="386.48" y="133.20" width="32.32" height="6.53" fill="#2a68b0"/>
<rect x="251.60" y="141.03" width="32.32" height="6.53" fill="#f3312b"/>
<rect x="285.32" y="141.03" width="32.32" height="6.53" fill="#a2b4ae"/>
<rect x="319.04" y="141.03" width="32.32" height="6.53" fill="#8ea6ae"/>
<rect x="352.76" y="141.03" width="32.32" height="6.53" fill="#bcc4ae"/>
<rect x="386.48" y="141.03" width="32.32" height="6.53" fill="#a2b4ae"/>
<rect x="251.60" y="148.85" width="32.32" height="6.53" fill="#f7a078"/>
<rect x="285.32" y="148.85" width="32.32" height="6.53" fill="#0b4ca9"/>
<rect x="319.04" y="148.85" width="32.32" height="6.53" fill="#8ea6ae"/>
<rect x="352.76" y="148.85" width="32.32" height="6.53" fill="#e8e2aa"/>
<rect x="386.48" y="148.85" width="32.32" height="6.53" fill="#f5614d"/>
<rect x="251.60" y="156.68" width="32.32" height="6.53" fill="#f88d6c"/>
<rect x="285.32" y="156.68" width="32.32" height="6.53" fill="#f5614d"/>
<rect x="319.04" y="156.68" width="32.32" height="6.53" fill="#5482b6"/>
<rect x="352.76" y="156.68" width="32.32" height="6.53" fill="#d2d3ae"/>
<rect x="386.48" y="156.68" width="32.32" height="6.53" fill="#5482b6"/>
<rect x="251.60" y="164.50" width="32.32" height="6.53" fill="#d2d3ae"/>
<rect x="285.32" y="164.50" width="32.32" height="6.53" fill="#7e9cb4"/>
<rect x="319.04" y="164.50" width="32.32" height="6.53" fill="#f3312b"/>
<rect x="352.76" y="164.50" width="32.32" height="6.53" fill="#a2b4ae"/>
<rect x="386.48" y="164.50" width="32.32" height="6.53" fill="#8ea6ae"/>
<rect x="251.60" y="172.33" width="32.32" height="6.53" fill="#bcc4ae"/>
<rect x="285.32" y="172.33" width="32.32" height="6.53" fill="#5482b6"/>
<rect x="319.04" y="172.33" width="32.32" height="6.53" fill="#5482b6"/>
<rect x="352.76" y="172.33" width="32.32" height="6.53" fill="#f88d6c"/>
<rect x="386.48" y="172.33" width="32.32" height="6.53" fill="#f5614d"/>
<rect x="251.60" y="180.15" width="32.32" height="6.53" fill="#8ea6ae"/>
<rect x="285.32" y="180.15" width="32.32" height="6.53" fill="#7e9cb4"/>
<rect x="319.04" y="180.15" width="32.32" height="6.53" fill="#bcc4ae"/>
<rect x="352.76" y="180.15" width="32.32" height="6.53" fill="#bcc4ae"/>
<rect x="386.48" y="180.15" width="32.32" height="6.53" fill="#f3312b"/>
<rect x="251.60" y="187.97" width="32.32" height="6.53" fill="#7096b4"/>
<rect x="285.32" y="187.97" width="32.32" height="6.53" fill="#f7c694"/>
<rect x="319.04" y="187.97" width="32.32" height="6.53" fill="#bcc4ae"/>
<rect x="352.76" y="187.97" width="32.32" height="6.53" fill="#5482b6"/>
<rect x="386.48" y="187.97" width="32.32" height="6.53" fill="#f3483a"/>
<rect x="251.60" y="195.80" width="32.32" height="6.53" fill="#7096b4"/>
<rect x="285.32" y="195.80" width="32.32" height="6.53" fill="#7096b4"/>
<rect x="319.04" y="195.80" width="32.32" height="6.53" fill="#7096b4"/>
<rect x="352.76" y="195.80" width="32.32" height="6.53" fill="#f88d6c"/>
<rect x="386.48" y="195.80" width="32.32" height="6.53" fill="#f5614d"/>
<rect x="251.60" y="203.62" width="32.32" height="6.53" fill="#7096b4"/>
<rect x="285.32" y="203.62" width="32.32" height="6.53" fill="#7096b4"/>
<rect x="319.04" y="203.62" width="32.32" height="6.53" fill="#7096b4"/>
<rect x="352.76" y="203.62" width="32.32" height="6.53" fill="#f88d6c"/>
<rect x="386.48" y="203.62" width="32.32" height="6.53" fill="#f5614d"/>
<rect x="251.60" y="211.45" width="32.32" height="6.53" fill="#f7c694"/>
<rect x="285.32" y="211.45" width="32.32" height="6.53" fill="#bcc4ae"/>
<rect x="319.04" y="211.45" width="32.32" height="6.53" fill="#7096b4"/>
<rect x="352.76" y="211.45" width="32.32" height="6.53" fill="#5482b6"/>
<rect x="386.48" y="211.45" width="32.32" height="6.53" fill="#f3483a"/>
<rect x="251.60" y="219.28" width="32.32" height="6.53" fill="#7096b4"/>
<rect x="285.32" y="219.28" width="32.32" height="6.53" fill="#f4d89c"/>
<rect x="319.04" y="219.28" width="32.32" height="6.53" fill="#d2d3ae"/>
<rect x="352.76" y="219.28" width="32.32" height="6.53" fill="#5482b6"/>
<rect x="386.48" y="219.28" width="32.32" height="6.53" fill="#f3483a"/>
<rect x="251.60" y="227.10" width="32.32" height="6.53" fill="#f3312b"/>
<rect x="285.32" y="227.10" width="32.32" height="6.53" fill="#e8e2aa"/>
<rect x="319.04" y="227.10" width="32.32" height="6.53" fill="#7096b4"/>
<rect x="352.76" y="227.10" width="32.32" height="6.53" fill="#8ea6ae"/>
<rect x="386.48" y="227.10" width="32.32" height="6.53" fill="#8ea6ae"/>
<rect x="251.60" y="234.93" width="32.32" height="6.53" fill="#a2b4ae"/>
<rect x="285.32" y="234.93" width="32.32" height="6.53" fill="#a2b4ae"/>
<rect x="319.04" y="234.93" width="32.32" height="6.53" fill="#a2b4ae"/>
<rect x="352.76" y="234.93" width="32.32" height="6.53" fill="#bcc4ae"/>
<rect x="386.48" y="234.93" width="32.32" height="6.53" fill="#f3312b"/>
<rect x="251.60" y="242.75" width="32.32" height="6.53" fill="#f3483a"/>
<rect x="285.32" y="242.75" width="32.32" height="6.53" fill="#7096b4"/>
<rect x="319.04" y="242.75" width="32.32" height="6.53" fill="#7096b4"/>
<rect x="352.76" y="242.75" width="32.32" height="6.53" fill="#e8e2aa"/>
<rect x="386.48" y="242.75" width="32.32" height="6.53" fill="#e8e2aa"/>
<rect x="251.60" y="250.58" width="32.32" height="6.53" fill="#8ea6ae"/>
<rect x="285.32" y="250.58" width="32.32" height="6.53" fill="#8ea6ae"/>
<rect x="319.04" y="250.58" width="32.32" height="6.53" fill="#f3312b"/>
<rect x="352.76" y="250.58" width="32.32" height="6.53" fill="#bcc4ae"/>
<rect x="386.48" y="250.58" width="32.32" height="6.53" fill="#a2b4ae"/>
<rect x="251.60" y="258.40" width="32.32" height="6.53" fill="#7096b4"/>
<rect x="285.32" y="258.40" width="32.32" height="6.53" fill="#f7c694"/>
<rect x="319.04" y="258.40" width="32.32" height="6.53" fill="#f5614d"/>
<rect x="352.76" y="258.40" width="32.32" height="6.53" fill="#5482b6"/>
<rect x="386.48" y="258.40" width="32.32" height="6.53" fill="#e8e2aa"/>
<rect x="251.60" y="266.23" width="32.32" height="6.53" fill="#8ea6ae"/>
<rect x="285.32" y="266.23" width="32.32" height="6.53" fill="#f7c694"/>
<rect x="319.04" y="266.23" width="32.32" height="6.53" fill="#f6b084"/>
<rect x="352.76" y="266.23" width="32.32" height="6.53" fill="#0b4ca9"/>
<rect x="386.48" y="266.23" width="32.32" height="6.53" fill="#f88d6c"/>
<rect x="251.60" y="274.05" width="32.32" height="6.53" fill="#7e9cb4"/>
<rect x="285.32" y="274.05" width="32.32" height="6.53" fill="#7e9cb4"/>
<rect x="319.04" y="274.05" width="32.32" height="6.53" fill="#bcc4ae"/>
<rect x="352.76" y="274.05" width="32.32" height="6.53" fill="#e8e2aa"/>
<rect x="386.48" y="274.05" width="32.32" height="6.53" fill="#f3312b"/>
<rect x="251.60" y="281.88" width="32.32" height="6.53" fill="#e8e2aa"/>
<rect x="285.32" y="281.88" width="32.32" height="6.53" fill="#f88d6c"/>
<rect x="319.04" y="281.88" width="32.32" height="6.53" fill="#7096b4"/>
<rect x="352.76" y="281.88" width="32.32" height="6.53" fill="#f88d6c"/>
<rect x="386.48" y="281.88" width="32.32" height="6.53" fill="#2a68b0"/>
<rect x="251.60" y="289.70" width="32.32" height="6.53" fill="#7096b4"/>
<rect x="285.32" y="289.70" width="32.32" height="6.53" fill="#bcc4ae"/>
<rect x="319.04" y="289.70" width="32.32" height="6.53" fill="#7e9cb4"/>
<rect x="352.76" y="289.70" width="32.32" height="6.53" fill="#d2d3ae"/>
<rect x="386.48" y="289.70" width="32.32" height="6.53" fill="#f3312b"/>
<rect x="251.60" y="297.53" width="32.32" height="6.53" fill="#f7a078"/>
<rect x="285.32" y="297.53" width="32.32" height="6.53" fill="#7096b4"/>
<rect x="319.04" y="297.53" width="32.32" height="6.53" fill="#f6b084"/>
<rect x="352.76" y="297.53" width="32.32" height="6.53" fill="#f88d6c"/>
<rect x="386.48" y="297.53" width="32.32" height="6.53" fill="#0b4ca9"/>
<rect x="251.60" y="305.35" width="32.32" height="6.53" fill="#0b4ca9"/>
<rect x="285.32" y="305.35" width="32.32" height="6.53" fill="#d2d3ae"/>
<rect x="319.04" y="305.35" width="32.32" height="6.53" fill="#bcc4ae"/>
<rect x="352.76" y="305.35" width="32.32" height="6.53" fill="#f4d89c"/>
<rect x="386.48" y="305.35" width="32.32" height="6.53" fill="#f5614d"/>
<rect x="251.60" y="313.18" width="32.32" height="6.53" fill="#8ea6ae"/>
<rect x="285.32" y="313.18" width="32.32" height="6.53" fill="#e8e2aa"/>
<rect x="319.04" y="313.18" width="32.32" height="6.53" fill="#7e9cb4"/>
<rect x="352.76" y="313.18" width="32.32" height="6.53" fill="#a2b4ae"/>
<rect x="386.48" y="313.18" width="32.32" height="6.53" fill="#f3312b"/>
<rect x="251.60" y="321.00" width="32.32" height="6.53" fill="#bcc4ae"/>
<rect x="285.32" y="321.00" width="32.32" height="6.53" fill="#8ea6ae"/>
<rect x="319.04" y="321.00" width="32.32" height="6.53" fill="#2a68b0"/>
<rect x="352.76" y="321.00" width="32.32" height="6.53" fill="#f7c694"/>
<rect x="386.48" y="321.00" width="32.32" height="6.53" fill="#f3483a"/>
<rect x="251.60" y="328.82" width="32.32" height="6.53" fill="#f7c694"/>
<rect x="285.32" y="328.82" width="32.32" height="6.53" fill="#2a68b0"/>
<rect x="319.04" y="328.82" width="32.32" height="6.53" fill="#f5614d"/>
<rect x="352.76" y="328.82" width="32.32" height="6.53" fill="#7e9cb4"/>
<rect x="386.48" y="328.82" width="32.32" height="6.53" fill="#f4d89c"/>
<rect x="251.60" y="336.65" width="32.32" height="6.53" fill="#bcc4ae"/>
<rect x="285.32" y="336.65" width="32.32" height="6.53" fill="#f6b084"/>
<rect x="319.04" y="336.65" width="32.32" height="6.53" fill="#2a68b0"/>
<rect x="352.76" y="336.65" width="32.32" height="6.53" fill="#f3483a"/>
<rect x="386.48" y="336.65" width="32.32" height="6.53" fill="#a2b4ae"/>
<rect x="251.60" y="344.48" width="32.32" height="6.53" fill="#0b4ca9"/>
<rect x="285.32" y="344.48" width="32.32" height="6.53" fill="#f88d6c"/>
<rect x="319.04" y="344.48" width="32.32" height="6.53" fill="#f7a078"/>
<rect x="352.76" y="344.48" width="32.32" height="6.53" fill="#7e9cb4"/>
<rect x="386.48" y="344.48" width="32.32" height="6.53" fill="#f4d89c"/>
<rect x="251.60" y="352.30" width="32.32" height="6.53" fill="#a2b4ae"/>
<rect x="285.32" y="352.30" width="32.32" height="6.53" fill="#f3312b"/>
<rect x="319.04" y="352.30" width="32.32" height="6.53" fill="#d2d3ae"/>
<rect x="352.76" y="352.30" width="32.32" height="6.53" fill="#5482b6"/>
<rect x="386.48" y="352.30" width="32.32" height="6.53" fill="#d2d3ae"/>
<rect x="251.60" y="360.12" width="32.32" height="6.53" fill="#d2d3ae"/>
<rect x="285.32" y="360.12" width="32.32" height="6.53" fill="#d2d3ae"/>
<rect x="319.04" y="360.12" width="32.32" height="6.53" fill="#d2d3ae"/>
<rect x="352.76" y="360.12" width="32.32" height="6.53" fill="#d2d3ae"/>
<rect x="386.48" y="360.12" width="32.32" height="6.53" fill="#d2d3ae"/>
<rect x="251.60" y="367.95" width="32.32" height="6.53" fill="#f3312b"/>
<rect x="285.32" y="367.95" width="32.32" height="6.53" fill="#a2b4ae"/>
<rect x="319.04" y="367.95" width="32.32" height="6.53" fill="#7e9cb4"/>
<rect x="352.76" y="367.95" width="32.32" height="6.53" fill="#e8e2aa"/>
<rect x="386.48" y="367.95" width="32.32" height="6.53" fill="#7e9cb4"/>
<rect x="251.60" y="375.78" width="32.32" height="6.53" fill="#8ea6ae"/>
<rect x="285.32" y="375.78" width="32.32" height="6.53" fill="#a2b4ae"/>
<rect x="319.04" y="375.78" width="32.32" height="6.53" fill="#bcc4ae"/>
<rect x="352.76" y="375.78" width="32.32" height="6.53" fill="#f3312b"/>
<rect x="386.48" y="375.78" width="32.32" height="6.53" fill="#bcc4ae"/>
<rect x="251.60" y="383.60" width="32.32" height="6.53" fill="#8ea6ae"/>
<rect x="285.32" y="383.60" width="32.32" height="6.53" fill="#a2b4ae"/>
<rect x="319.04" y="383.60" width="32.32" height="6.53" fill="#bcc4ae"/>
<rect x="352.76" y="383.60" width="32.32" height="6.53" fill="#f3312b"/>
<rect x="386.48" y="383.60" width="32.32" height="6.53" fill="#bcc4ae"/>
<rect x="251.60" y="391.43" width="32.32" height="6.53" fill="#7e9cb4"/>
<rect x="285.32" y="391.43" width="32.32" height="6.53" fill="#8ea6ae"/>
<rect x="319.04" y="391.43" width="32.32" height="6.53" fill="#f88d6c"/>
<rect x="352.76" y="391.43" width="32.32" height="6.53" fill="#8ea6ae"/>
<rect x="386.48" y="391.43" width="32.32" height="6.53" fill="#f88d6c"/>
<rect x="251.60" y="399.25" width="32.32" height="6.53" fill="#f88d6c"/>
<rect x="285.32" y="399.25" width="32.32" height="6.53" fill="#7e9cb4"/>
<rect x="319.04" y="399.25" width="32.32" height="6.53" fill="#f88d6c"/>
<rect x="352.76" y="399.25" width="32.32" height="6.53" fill="#bcc4ae"/>
<rect x="386.48" y="399.25" width="32.32" height="6.53" fill="#5482b6"/>
<rect x="251.60" y="407.07" width="32.32" height="6.53" fill="#8ea6ae"/>
<rect x="285.32" y="407.07" width="32.32" height="6.53" fill="#f3312b"/>
<rect x="319.04" y="407.07" width="32.32" height="6.53" fill="#f4d89c"/>
<rect x="352.76" y="407.07" width="32.32" height="6.53" fill="#7e9cb4"/>
<rect x="386.48" y="407.07" width="32.32" height="6.53" fill="#8ea6ae"/>
<rect x="251.60" y="414.90" width="32.32" height="6.53" fill="#8ea6ae"/>
<rect x="285.32" y="414.90" width="32.32" height="6.53" fill="#f3312b"/>
<rect x="319.04" y="414.90" width="32.32" height="6.53" fill="#d2d3ae"/>
<rect x="352.76" y="414.90" width="32.32" height="6.53" fill="#7e9cb4"/>
<rect x="386.48" y="414.90" width="32.32" height="6.53" fill="#8ea6ae"/>
<text transform="translate(424.30 14.76) rotate(0.1)" class="rl">MnERF36</text>
<text transform="translate(424.30 22.59) rotate(0.1)" class="rl">MnERF37</text>
<text transform="translate(424.30 30.41) rotate(0.1)" class="rl">MnERF38</text>
<text transform="translate(424.30 38.24) rotate(0.1)" class="rl">MnSoloist</text>
<text transform="translate(424.30 46.06) rotate(0.1)" class="rl">MnERF39</text>
<text transform="translate(424.30 53.89) rotate(0.1)" class="rl">MnERF40</text>
<text transform="translate(424.30 61.71) rotate(0.1)" class="rl">MnERF41</text>
<text transform="translate(424.30 69.54) rotate(0.1)" class="rl">MnERF42</text>
<text transform="translate(424.30 77.36) rotate(0.1)" class="rl">MnERF43</text>
<text transform="translate(424.30 85.19) rotate(0.1)" class="rl">MnERF44</text>
<text transform="translate(424.30 93.01) rotate(0.1)" class="rl">MnERF45</text>
<text transform="translate(424.30 100.84) rotate(0.1)" class="rl">MnERF46</text>
<text transform="translate(424.30 108.66) rotate(0.1)" class="rl">MnERF47</text>
<text transform="translate(424.30 116.49) rotate(0.1)" class="rl">MnERF48</text>
<text transform="translate(424.30 124.31) rotate(0.1)" class="rl">MnERF49</text>
<text transform="translate(424.30 132.14) rotate(0.1)" class="rl">MnERF50</text>
<text transform="translate(424.30 139.96) rotate(0.1)" class="rl">MnERF51</text>
<text transform="translate(424.30 147.79) rotate(0.1)" class="rl">MnERF52</text>
<text transform="translate(424.30 155.61) rotate(0.1)" class="rl">MnERF53</text>
<text transform="translate(424.30 163.44) rotate(0.1)" class="rl">MnERF54</text>
<text transform="translate(424.30 171.26) rotate(0.1)" class="rl">MnERF55</text>
<text transform="translate(424.30 179.09) rotate(0.1)" class="rl">MnERF56</text>
<text transform="translate(424.30 186.91) rotate(0.1)" class="rl">MnERF57</text>
<text transform="translate(424.30 194.74) rotate(0.1)" class="rl">MnERF58</text>
<text transform="translate(424.30 202.56) rotate(0.1)" class="rl">MnERF59</text>
<text transform="translate(424.30 210.39) rotate(0.1)" class="rl">MnERF60</text>
<text transform="translate(424.30 218.21) rotate(0.1)" class="rl">MnERF61</text>
<text transform="translate(424.30 226.04) rotate(0.1)" class="rl">MnERF62</text>
<text transform="translate(424.30 233.86) rotate(0.1)" class="rl">MnERF63</text>
<text transform="translate(424.30 241.69) rotate(0.1)" class="rl">MnERF64</text>
<text transform="translate(424.30 249.51) rotate(0.1)" class="rl">MnERF65</text>
<text transform="translate(424.30 257.34) rotate(0.1)" class="rl">MnERF66</text>
<text transform="translate(424.30 265.16) rotate(0.1)" class="rl">MnERF67</text>
<text transform="translate(424.30 272.99) rotate(0.1)" class="rl">MnERF68</text>
<text transform="translate(424.30 280.81) rotate(0.1)" class="rl">MnERF69</text>
<text transform="translate(424.30 288.64) rotate(0.1)" class="rl">MnERF70</text>
<text transform="translate(424.30 296.46) rotate(0.1)" class="rl">MnERF71</text>
<text transform="translate(424.30 304.29) rotate(0.1)" class="rl">MnERF72</text>
<text transform="translate(424.30 312.11) rotate(0.1)" class="rl">MnERF73</text>
<text transform="translate(424.30 319.94) rotate(0.1)" class="rl">MnERF74</text>
<text transform="translate(424.30 327.76) rotate(0.1)" class="rl">MnERF75</text>
<text transform="translate(424.30 335.59) rotate(0.1)" class="rl">MnDREB1</text>
<text transform="translate(424.30 343.41) rotate(0.1)" class="rl">MnDREB2</text>
<text transform="translate(424.30 351.24) rotate(0.1)" class="rl">MnERF76</text>
<text transform="translate(424.30 359.06) rotate(0.1)" class="rl">MnERF77</text>
<text transform="translate(424.30 366.89) rotate(0.1)" class="rl">MnERF78</text>
<text transform="translate(424.30 374.71) rotate(0.1)" class="rl">MnERF79</text>
<text transform="translate(424.30 382.54) rotate(0.1)" class="rl">MnERF80</text>
<text transform="translate(424.30 390.36) rotate(0.1)" class="rl">MnERF81</text>
<text transform="translate(424.30 398.19) rotate(0.1)" class="rl">MnERF82</text>
<text transform="translate(424.30 406.01) rotate(0.1)" class="rl">MnERF83</text>
<text transform="translate(424.30 413.84) rotate(0.1)" class="rl">MnERF84</text>
<text transform="translate(424.30 421.66) rotate(0.1)" class="rl">MnERF85</text>
<text transform="translate(276.46 436.60) rotate(-45.0)" class="xl">Root</text>
<text transform="translate(310.68 436.60) rotate(-45.0)" class="xl">Bark</text>
<text transform="translate(344.90 436.60) rotate(-45.0)" class="xl">Winter bud</text>
<text transform="translate(379.12 436.60) rotate(-45.0)" class="xl">Male flower</text>
<text transform="translate(413.34 436.60) rotate(-45.0)" class="xl">Leaf</text>
<defs><linearGradient id="cg" x1="0" y1="0" x2="0" y2="1"><stop offset="0.0000" stop-color="#f0302c"/><stop offset="0.0625" stop-color="#f4453a"/><stop offset="0.1250" stop-color="#f6604e"/><stop offset="0.1875" stop-color="#f8785e"/><stop offset="0.2500" stop-color="#f88e6e"/><stop offset="0.3125" stop-color="#f6a87c"/><stop offset="0.3750" stop-color="#f6c090"/><stop offset="0.4375" stop-color="#f4d89c"/><stop offset="0.5000" stop-color="#e8e2aa"/><stop offset="0.5625" stop-color="#cdd0ad"/><stop offset="0.6250" stop-color="#aabcb0"/><stop offset="0.6875" stop-color="#8eaab0"/><stop offset="0.7500" stop-color="#7598b4"/><stop offset="0.8125" stop-color="#5482b6"/><stop offset="0.8750" stop-color="#3a72b4"/><stop offset="0.9375" stop-color="#1e5cb0"/><stop offset="1.0000" stop-color="#0a4aaa"/></linearGradient></defs>
<rect x="494.50" y="8.20" width="19.30" height="152.10" fill="url(#cg)"/>
<line x1="514.30" y1="8.20" x2="514.30" y2="160.30" stroke="#000" stroke-width="1"/>
<line x1="513.80" y1="8.20" x2="517.30" y2="8.20" stroke="#000" stroke-width="1"/>
<text x="518.40" y="12.60" class="cl">2.00</text>
<line x1="513.80" y1="27.21" x2="517.30" y2="27.21" stroke="#000" stroke-width="1"/>
<text x="518.40" y="31.61" class="cl">1.50</text>
<line x1="513.80" y1="46.23" x2="517.30" y2="46.23" stroke="#000" stroke-width="1"/>
<text x="518.40" y="50.63" class="cl">1.00</text>
<line x1="513.80" y1="65.24" x2="517.30" y2="65.24" stroke="#000" stroke-width="1"/>
<text x="518.40" y="69.64" class="cl">0.50</text>
<line x1="513.80" y1="84.25" x2="517.30" y2="84.25" stroke="#000" stroke-width="1"/>
<text x="518.40" y="88.65" class="cl">0.00</text>
<line x1="513.80" y1="103.26" x2="517.30" y2="103.26" stroke="#000" stroke-width="1"/>
<text x="518.40" y="107.66" class="cl">-0.50</text>
<line x1="513.80" y1="122.28" x2="517.30" y2="122.28" stroke="#000" stroke-width="1"/>
<text x="518.40" y="126.68" class="cl">-1.00</text>
<line x1="513.80" y1="141.29" x2="517.30" y2="141.29" stroke="#000" stroke-width="1"/>
<text x="518.40" y="145.69" class="cl">-1.50</text>
<line x1="513.80" y1="160.30" x2="517.30" y2="160.30" stroke="#000" stroke-width="1"/>
<text x="518.40" y="164.70" class="cl">-2.00</text>
</svg>
</body></html>
